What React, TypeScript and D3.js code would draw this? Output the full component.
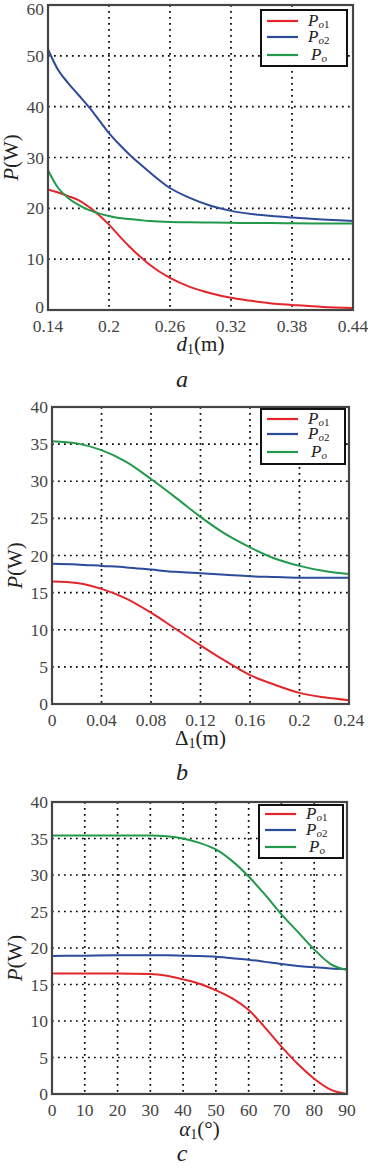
import * as d3 from 'd3';

// panel a: d1 (m)
const xA = [0.14, 0.15, 0.16, 0.17, 0.18, 0.19, 0.2, 0.21, 0.22, 0.23, 0.24, 0.26, 0.28, 0.3, 0.32, 0.34, 0.36, 0.38, 0.41, 0.44];
const po1A = [23.7, 23.1, 22.4, 21.6, 20.3, 18.7, 16.8, 14.6, 12.5, 10.6, 8.9, 6.3, 4.5, 3.3, 2.4, 1.8, 1.3, 1.0, 0.6, 0.4];
const po2A = [51.3, 47.2, 44.6, 42.3, 40.0, 37.4, 34.8, 32.6, 30.6, 28.8, 27.1, 24.0, 22.0, 20.5, 19.5, 18.9, 18.5, 18.2, 17.8, 17.5];
const poA = [27.5, 24.0, 22.0, 20.7, 19.7, 19.0, 18.5, 18.1, 17.9, 17.7, 17.5, 17.3, 17.25, 17.2, 17.15, 17.1, 17.1, 17.05, 17.0, 17.0];
const xTicksA = [0.14, 0.2, 0.26, 0.32, 0.38, 0.44];
const yTicksA = [0, 10, 20, 30, 40, 50, 60];

// panel b: delta1 (m)
const xB = [0, 0.02, 0.04, 0.06, 0.08, 0.1, 0.12, 0.14, 0.16, 0.18, 0.2, 0.22, 0.24];
const po1B = [16.5, 16.3, 15.5, 14.2, 12.3, 10.1, 7.9, 5.8, 3.9, 2.6, 1.5, 0.9, 0.5];
const po2B = [18.9, 18.8, 18.6, 18.4, 18.1, 17.8, 17.6, 17.4, 17.2, 17.1, 17.0, 17.0, 17.0];
const poB = [35.4, 35.1, 34.2, 32.6, 30.3, 27.8, 25.2, 22.9, 21.1, 19.6, 18.6, 17.9, 17.5];
const xTicksB = [0, 0.04, 0.08, 0.12, 0.16, 0.2, 0.24];
const yTicksB = [0, 5, 10, 15, 20, 25, 30, 35, 40];

// panel c: alpha1 (deg)
const xC = [0, 10, 20, 30, 35, 40, 45, 50, 55, 60, 65, 70, 75, 80, 85, 90];
const po1C = [16.5, 16.5, 16.5, 16.45, 16.2, 15.7, 15.1, 14.2, 13.1, 11.5, 9.1, 6.5, 4.1, 2.1, 0.6, 0.0];
const po2C = [18.9, 18.95, 19.0, 19.0, 19.0, 18.95, 18.9, 18.8, 18.6, 18.4, 18.1, 17.8, 17.55, 17.35, 17.2, 17.1];
const poC = [35.4, 35.4, 35.4, 35.4, 35.3, 35.0, 34.4, 33.5, 31.9, 29.8, 27.3, 24.6, 22.2, 19.8, 17.8, 17.0];
const xTicksC = [0, 10, 20, 30, 40, 50, 60, 70, 80, 90];
const yTicksC = [0, 5, 10, 15, 20, 25, 30, 35, 40];

const RED = '#e3262b';
const BLUE = '#2d4b9b';
const GREEN = '#22994a';
const FONT = '"Liberation Serif", "Times New Roman", Times, serif';

const Panel = ({ box, xs, ys, xTicks, yTicks, xLabel, xLabelDy, zeroDy, tag, tagY, yLabelShift, legend }: any) => {
  const x = d3.scaleLinear().domain([xTicks[0], xTicks[xTicks.length - 1]]).range([box.l, box.r]);
  const y = d3.scaleLinear().domain([yTicks[0], yTicks[yTicks.length - 1]]).range([box.b, box.t]);
  const line = d3.line<number>()
    .x((d, i) => x(xs[i]))
    .y(d => y(d))
    .curve(d3.curveMonotoneX);
  const cols = [RED, BLUE, GREEN];
  const subs = ['1', '2', ''];
  return (
    <g fontFamily={FONT}>
      {/* dotted grid */}
      {xTicks.slice(1, -1).map((t: number) => (
        <line key={'gx' + t} x1={x(t)} x2={x(t)} y1={box.t} y2={box.b} stroke="#000" strokeWidth={1.7} strokeDasharray="1.7 4.3" />
      ))}
      {yTicks.slice(1, -1).map((t: number) => (
        <line key={'gy' + t} x1={box.l} x2={box.r} y1={y(t)} y2={y(t)} stroke="#000" strokeWidth={1.7} strokeDasharray="1.7 4.3" />
      ))}
      {ys.map((s: number[], i: number) => (
        <path key={'s' + i} d={line(s) || ''} fill="none" stroke={cols[i]} strokeWidth={2} />
      ))}
      <rect x={box.l} y={box.t} width={box.r - box.l} height={box.b - box.t} fill="none" stroke="#454545" strokeWidth={2.2} />
      {yTicks.map((t: number) => (
        <text key={'ty' + t} x={box.l - 4} y={Math.max(y(t) + (t === 0 ? zeroDy : 6), 15)} textAnchor="end" fontSize={17.5} fill="#444">{t}</text>
      ))}
      {xTicks.map((t: number) => (
        <text key={'tx' + t} x={x(t)} y={box.b + 22} textAnchor="middle" fontSize={17.5} fill="#444">{String(t)}</text>
      ))}
      <text transform={`translate(${box.l - 30},${(box.t + box.b) / 2 + yLabelShift}) rotate(-90)`} textAnchor="middle" fontSize={21} fill="#222">
        <tspan fontStyle="italic">P</tspan>(W)
      </text>
      <text x={(box.l + box.r) / 2} y={box.b + xLabelDy} textAnchor="middle" fontSize={21} fill="#222">{xLabel}</text>
      <text x={182} y={tagY} textAnchor="middle" fontSize={24} fontStyle="italic" fill="#222">{tag}</text>
      {/* legend */}
      <rect x={legend.x} y={legend.y} width={legend.w} height={legend.h} fill="#fff" stroke="#111" strokeWidth={2} />
      {legend.rows.map((off: number, i: number) => {
        const ly = legend.y + off;
        return (
          <g key={'lg' + i}>
            <line x1={legend.x + 6} x2={legend.x + 37} y1={ly} y2={ly} stroke={cols[i]} strokeWidth={2.2} />
            <text x={legend.x + 47 + (i === 2 ? 3 : 0)} y={ly + 5} fontSize={17} fontStyle="italic" fill="#222">
              P<tspan fontSize={11} dy={2}>o</tspan>
              {subs[i] && <tspan fontSize={11} fontStyle="normal">{subs[i]}</tspan>}
            </text>
          </g>
        );
      })}
    </g>
  );
};

export default function App() {
  return (
    <div style={{ position: 'absolute', left: 0, top: 0 }}>
      <svg width={368} height={1168} style={{ display: 'block', background: '#fff' }}>
        <Panel
          box={{ l: 48, r: 353, t: 5, b: 310 }}
          xs={xA}
          ys={[po1A, po2A, poA]}
          xTicks={xTicksA}
          yTicks={yTicksA}
          xLabel={<><tspan fontStyle="italic">d</tspan><tspan fontSize={14} dy={3}>1</tspan><tspan dy={-3}>(m)</tspan></>}
          xLabelDy={41}
          zeroDy={3}
          tag="a"
          tagY={387}
          yLabelShift={0}
          legend={{ x: 261, y: 10, w: 86, h: 56, rows: [11, 27, 45] }}
        />
        <Panel
          box={{ l: 52, r: 349, t: 407, b: 704 }}
          xs={xB}
          ys={[po1B, po2B, poB]}
          xTicks={xTicksB}
          yTicks={yTicksB}
          xLabel={<>Δ<tspan fontSize={14} dy={3}>1</tspan><tspan dy={-3}>(m)</tspan></>}
          xLabelDy={41}
          zeroDy={6}
          tag="b"
          tagY={780}
          yLabelShift={10}
          legend={{ x: 261, y: 409, w: 84, h: 55, rows: [10, 25, 43] }}
        />
        <Panel
          box={{ l: 52, r: 347, t: 802, b: 1094 }}
          xs={xC}
          ys={[po1C, po2C, poC]}
          xTicks={xTicksC}
          yTicks={yTicksC}
          xLabel={<><tspan fontStyle="italic">α</tspan><tspan fontSize={14} dy={3}>1</tspan><tspan dy={-3}>(°)</tspan></>}
          xLabelDy={42}
          zeroDy={6}
          tag="c"
          tagY={1161}
          yLabelShift={10}
          legend={{ x: 259, y: 805, w: 84, h: 53, rows: [9, 25, 42] }}
        />
      </svg>
    </div>
  );
}
